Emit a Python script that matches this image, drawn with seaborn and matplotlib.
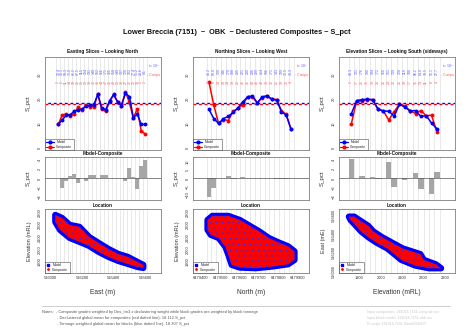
import numpy as np
import pandas as pd
import matplotlib
matplotlib.use("Agg")
import matplotlib.pyplot as plt
import seaborn as sns

sns.set_theme(style="white")
plt.rcParams['font.family'] = ['Liberation Sans', 'DejaVu Sans']
plt.rcParams['hatch.linewidth'] = 0.5

# ---------------- data ----------------
TITLE = "Lower Breccia (7151)  ~  OBK  ~ Declustered Composites ~ S_pct"
mean_comp = 18.112
mean_model = 18.307

east_slices = [516050, 516075, 516100, 516125, 516150, 516175, 516200, 516225, 516250, 516275,
               516300, 516325, 516350, 516375, 516400, 516425, 516450, 516475, 516500, 516525,
               516550, 516575, 516600]
east_model = [9.6, 11.5, 13.3, 13.6, 15.0, 15.7, 15.8, 17.1, 17.6, 17.6, 22.1, 16.5, 15.7, 19.3,
              22.0, 19.0, 17.4, 22.5, 21.1, 12.4, 13.8, 9.6, 9.6]
east_comp = [9.6, 13.5, 13.9, 13.1, 14.0, 16.6, 15.6, 17.6, 16.9, 16.9, 22.1, 15.8, 15.0, 19.2,
             21.8, 19.0, 17.4, 23.1, 18.7, 12.1, 16.1, 6.9, 5.6]
east_tonnes = ["12.4", "35.1", "58.3", "71.0", "86.2", "97.5", "110", "124", "131", "140", "152", "166", "171",
               "165", "158", "149", "137", "120", "102", "77.4", "51.2", "28.6", "9.1"]
east_counts = ["2", "6", "11", "14", "18", "21", "25", "30", "33", "36", "41", "44", "47",
               "45", "40", "38", "33", "27", "22", "15", "10", "5", "2"]

north_slices = [6479442.5, 6479467.5, 6479492.5, 6479517.5, 6479542.5, 6479567.5, 6479592.5,
                6479617.5, 6479642.5, 6479667.5, 6479692.5, 6479717.5, 6479742.5, 6479767.5,
                6479792.5, 6479817.5, 6479842.5, 6479867.5]
north_model = [15.8, 12.0, 10.0, 12.0, 12.9, 14.6, 16.4, 18.9, 21.0, 21.4, 18.5, 21.0, 21.5,
               20.1, 19.6, 14.9, 13.4, 7.5]
north_comp = [27.2, 17.5, 10.0, 11.6, 11.2, 15.0, 16.2, 17.8, 21.0, 21.0, 18.5, 20.6, 21.2,
              20.1, 19.9, 15.3, 13.7, 7.5]
north_tonnes = ["41.2", "88.0", "120", "146", "170", "188", "205", "221", "230", "236", "229", "214",
                "196", "171", "143", "109", "72.5", "30.3"]
north_counts = ["3", "8", "14", "19", "24", "30", "36", "41", "45", "48", "46", "43", "38",
                "32", "26", "19", "12", "4"]

elev_slices = [1862.5, 1887.5, 1912.5, 1937.5, 1962.5, 1987.5, 2012.5, 2037.5, 2062.5, 2087.5,
               2112.5, 2137.5, 2162.5, 2187.5, 2212.5, 2237.5, 2262.5]
elev_model = [14.0, 19.4, 19.9, 20.0, 19.9, 15.8, 15.2, 15.0, 13.1, 17.9, 16.8, 15.2, 15.3,
              12.9, 13.2, 10.1, 7.8]
elev_comp = [9.8, 19.3, 19.3, 19.9, 19.6, 16.0, 15.1, 11.4, 14.9, 17.9, 17.1, 15.2, 14.1,
             15.3, 13.2, 13.4, 6.4]
elev_tonnes = ["48.3", "131", "176", "190", "184", "172", "160", "151", "139", "128", "119", "108",
               "96.2", "84.0", "70.5", "52.1", "27.7"]
elev_counts = ["5", "17", "26", "31", "30", "28", "26", "24", "22", "21", "19", "17",
               "15", "13", "11", "8", "4"]

# outline of block model extent (East vs Elevation section)
sec_e_x = [516031, 516073, 516122, 516184, 516245, 516306, 516367, 516429, 516490, 516551, 516588,
           516588, 516551, 516490, 516429, 516367, 516306, 516245, 516184, 516122, 516061, 516031]
sec_e_z = [2282, 2258, 2201, 2185, 2103, 2054, 2006, 1965, 1941, 1900, 1876,
           1851, 1859, 1884, 1908, 1941, 1981, 2030, 2063, 2095, 2160, 2225]
# outline of block model extent (North vs Elevation section)
sec_n_y = [6479435, 6479460, 6479543, 6479602, 6479652, 6479702, 6479752, 6479802, 6479852, 6479885,
           6479885, 6479852, 6479768, 6479685, 6479602, 6479560, 6479543, 6479527, 6479493, 6479452,
           6479435]
sec_n_z = [2241, 2274, 2274, 2241, 2195, 2149, 2095, 2059, 2027, 1986,
           1916, 1881, 1862, 1849, 1854, 1876, 1957, 2024, 2094, 2120, 2161]

notes = ["Notes:  - Composite grades weighted by Dns_tm3 x declustering weight while block grades are weighted by block tonnage",
         "- Declustered global mean for composites (red dotted line): 18.112 S_pct",
         "- Tonnage weighted global mean for blocks (blue dotted line): 18.307 S_pct"]
inputs = ["Input composites: 181014-7151.comp.de.csv",
          "Input block model: 181014-7151.obk.csv",
          "R-script: 181014-7151 SwathC068.R"]

# ---------------- figure ----------------
W, H = 474, 335
fig = plt.figure(figsize=(W / 100, H / 100), dpi=100)
fig.patch.set_facecolor("white")

def ax_px(x0, y0, x1, y1):
    return fig.add_axes([x0 / W, 1 - y1 / H, (x1 - x0) / W, (y1 - y0) / H])

BLUE = "#0000ff"
RED = "#ff0000"
GRID = "#d9d9d9"
SPINE = "#7f7f7f"
TXT = "#333333"

def style(ax):
    for s in ax.spines.values():
        s.set_color(SPINE)
        s.set_linewidth(0.6)
    ax.tick_params(axis="both", labelsize=2.9, length=1.5, width=0.4, pad=1,
                   colors=TXT, color=SPINE)
    ax.set_facecolor("white")

cols = [
    dict(x0=45, x1=161, sl=east_slices, m=east_model, c=east_comp, t=east_tonnes, n=east_counts,
         title="Easting Slices ~ Looking North", xlim=(515966, 516700), xticks=[516000, 516200, 516400, 516600],
         xlabel="East (m)", dlim=4.7, dticks=[-4, -2, 0, 2, 4]),
    dict(x0=193, x1=309, sl=north_slices, m=north_model, c=north_comp, t=north_tonnes, n=north_counts,
         title="Northing Slices ~ Looking West", xlim=(6479360, 6479960),
         xticks=[6479400, 6479500, 6479600, 6479700, 6479800, 6479900],
         xlabel="North (m)", dlim=13, dticks=[-10, -5, 0, 5, 10]),
    dict(x0=339, x1=455, sl=elev_slices, m=elev_model, c=elev_comp, t=elev_tonnes, n=elev_counts,
         title="Elevation Slices ~ Looking South (sideways)", xlim=(1805, 2347),
         xticks=[1900, 2000, 2100, 2200, 2300],
         xlabel="Elevation (mRL)", dlim=4.7, dticks=[-4, -2, 0, 2, 4]),
]

fig.text(237 / W, 1 - 33 / H, TITLE, ha="center", va="center", fontsize=5.3, fontweight="bold", color="#111111")

for k, col in enumerate(cols):
    sl = np.array(col["sl"], dtype=float)
    half = (sl[1] - sl[0]) / 2
    edges = np.append(sl - half, sl[-1] + half)
    df = pd.DataFrame({"x": np.concatenate([sl, sl]),
                       "v": np.concatenate([col["c"], col["m"]]),
                       "src": ["Composite"] * len(sl) + ["Model"] * len(sl)})

    # ---- swath plot ----
    ax = ax_px(col["x0"], 57, col["x1"], 150)
    style(ax)
    for e in edges:
        ax.axvline(e, color=GRID, lw=0.4, zorder=0)
    ax.axhline(mean_comp, color=RED, lw=1.0, ls=(0, (2, 2)), zorder=1)
    ax.axhline(mean_model, color=BLUE, lw=1.0, ls=(2, (2, 2)), zorder=1)
    sns.lineplot(data=df, x="x", y="v", hue="src", hue_order=["Composite", "Model"],
                 palette={"Composite": RED, "Model": BLUE}, marker="o", markersize=2.8,
                 markeredgewidth=0, lw=1.1, ax=ax, legend=False, zorder=3)
    for xi, tl, cl in zip(sl, col["t"], col["n"]):
        ax.text(xi, 31.5, tl, rotation=90, ha="center", va="center", fontsize=2.5, color="#5a5aff")
        ax.text(xi, 27.2, cl, rotation=90, ha="center", va="center", fontsize=2.5, color="#ff5a5a")
    ax.text(0.995, (33.8 + 1) / 38.5, r"t = 10$^3$", transform=ax.transAxes, ha="right", va="center",
            fontsize=2.5, color="#5a5aff")
    ax.text(0.995, (30.0 + 1) / 38.5, "- Comps", transform=ax.transAxes, ha="right", va="center",
            fontsize=2.5, color="#ff5a5a")
    ax.set_xlim(col["xlim"])
    ax.set_ylim(-1, 37.5)
    ax.set_yticks([0, 10, 20, 30])
    ax.set_xticks([])
    for lab in ax.get_yticklabels():
        lab.set_rotation(90)
        lab.set_va("center")
    ax.set_xlabel("")
    ax.set_ylabel("S_pct", fontsize=4.4, color=TXT, labelpad=5)
    ax.set_title(col["title"], fontsize=3.4, fontweight="bold", color="#111111", pad=3)
    h1, = ax.plot([], [], color=BLUE, marker="o", ms=2, lw=0.9, label="Model")
    h2, = ax.plot([], [], color=RED, marker="o", ms=2, lw=0.9, label="Composite")
    leg = ax.legend(handles=[h1, h2], loc="lower left", fontsize=2.4, frameon=True, fancybox=False,
                    borderpad=0.4, handlelength=2.2, labelspacing=0.2, borderaxespad=0.0)
    leg.get_frame().set_edgecolor("#222222")
    leg.get_frame().set_linewidth(0.4)

    # ---- difference bars ----
    axd = ax_px(col["x0"], 157, col["x1"], 200)
    style(axd)
    for e in edges:
        axd.axvline(e, color=GRID, lw=0.4, zorder=0)
    diff = np.array(col["m"]) - np.array(col["c"])
    axd.bar(sl, diff, width=2 * half, color="#a6a6a6", edgecolor="none", zorder=2)
    axd.axhline(0, color="#555555", lw=0.5, zorder=3)
    axd.set_xlim(col["xlim"])
    axd.set_ylim(-col["dlim"], col["dlim"])
    axd.set_yticks(col["dticks"])
    axd.set_xticks([])
    for lab in axd.get_yticklabels():
        lab.set_rotation(90)
        lab.set_va("center")
    axd.set_ylabel("S_pct", fontsize=4.4, color=TXT, labelpad=5)
    axd.set_title("Model-Composite", fontsize=3.4, fontweight="bold", color="#111111", pad=1.5)

    # ---- location ----
    axl = ax_px(col["x0"], 209, col["x1"], 273)
    style(axl)
    if k == 0:
        px, pz = sec_e_x, sec_e_z
    elif k == 1:
        px, pz = sec_n_y, sec_n_z
    else:
        px, pz = sec_e_z, sec_e_x
    for e in edges:
        axl.axvline(e, color=GRID, lw=0.4, zorder=0)
    axl.fill(px, pz, facecolor=BLUE, edgecolor=BLUE, lw=4.5, joinstyle="round", zorder=2)
    axl.fill(px, pz, facecolor=RED, edgecolor="#3030ff", hatch="...", lw=0, zorder=3)
    axl.set_xlim(col["xlim"])
    axl.set_xticks(col["xticks"])
    axl.set_xticklabels([str(t) for t in col["xticks"]])
    if k < 2:
        axl.set_ylim(1810, 2330)
        axl.set_yticks([1900, 2000, 2100, 2200, 2300])
        axl.set_ylabel("Elevation (mRL)", fontsize=4.0, color=TXT, labelpad=4)
    else:
        axl.set_ylim(515980, 516670)
        axl.set_yticks([516000, 516200, 516400, 516600])
        axl.set_ylabel("East (mE)", fontsize=4.0, color=TXT, labelpad=4)
    for lab in axl.get_yticklabels():
        lab.set_rotation(90)
        lab.set_va("center")
    axl.set_xlabel(col["xlabel"], fontsize=4.8, color=TXT, labelpad=6)
    axl.set_title("Location", fontsize=3.4, fontweight="bold", color="#111111", pad=1.5)
    m1, = axl.plot([], [], ls="none", marker="s", ms=1.8, color=BLUE, label="Model")
    m2, = axl.plot([], [], ls="none", marker="o", ms=1.0, color=RED, label="Composite")
    leg = axl.legend(handles=[m1, m2], loc="lower left", fontsize=2.4, frameon=True, fancybox=False,
                     borderpad=0.4, handlelength=1.0, labelspacing=0.2, borderaxespad=0.0)
    leg.get_frame().set_edgecolor("#222222")
    leg.get_frame().set_linewidth(0.4)

# separator + notes
fig.add_artist(plt.Line2D([42 / W, 450 / W], [1 - 306 / H, 1 - 306 / H], color="#bbbbbb", lw=0.5))
fig.text(42 / W, 1 - 312 / H, notes[0], fontsize=2.9, color="#555555", va="center", ha="left")
fig.text(57 / W, 1 - 318 / H, notes[1], fontsize=2.9, color="#555555", va="center", ha="left")
fig.text(57 / W, 1 - 324 / H, notes[2], fontsize=2.9, color="#555555", va="center", ha="left")
for i, s in enumerate(inputs):
    fig.text(367 / W, 1 - (312 + 6 * i) / H, s, fontsize=2.6, color="#c8c8c8", va="center", ha="left")

fig.savefig("out.png", dpi=100, facecolor="white")
